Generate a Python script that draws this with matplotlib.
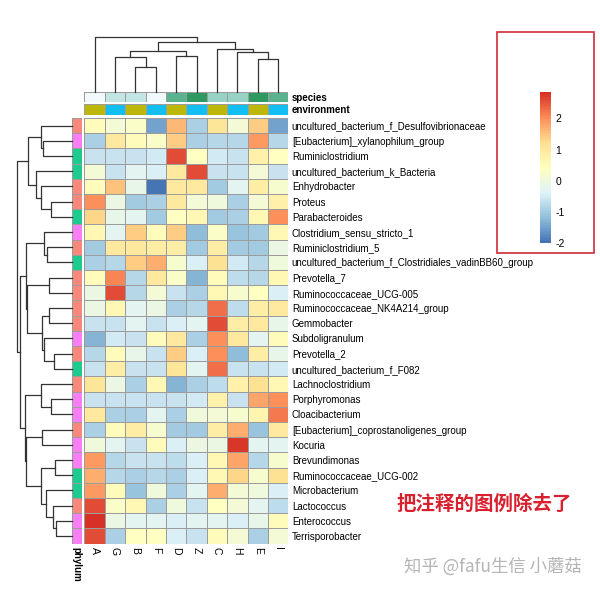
"""Clustered heatmap (pheatmap style) of genus abundance z-scores."""

import matplotlib
matplotlib.use("Agg")
import matplotlib.pyplot as plt
import numpy as np
from matplotlib.colors import LinearSegmentedColormap, ListedColormap
from matplotlib.patches import Rectangle

plt.rcParams["font.family"] = ["Liberation Sans", "Noto Sans CJK SC", "DejaVu Sans"]
plt.rcParams["axes.unicode_minus"] = False

# ---------------------------------------------------------------------------
# Data (order as displayed after clustering)
# ---------------------------------------------------------------------------
samples = ["A", "G", "B", "F", "D", "Z", "C", "H", "E", "I"]

genera = [
    "uncultured_bacterium_f_Desulfovibrionaceae",
    "[Eubacterium]_xylanophilum_group",
    "Ruminiclostridium",
    "uncultured_bacterium_k_Bacteria",
    "Enhydrobacter",
    "Proteus",
    "Parabacteroides",
    "Clostridium_sensu_stricto_1",
    "Ruminiclostridium_5",
    "uncultured_bacterium_f_Clostridiales_vadinBB60_group",
    "Prevotella_7",
    "Ruminococcaceae_UCG-005",
    "Ruminococcaceae_NK4A214_group",
    "Gemmobacter",
    "Subdoligranulum",
    "Prevotella_2",
    "uncultured_bacterium_f_F082",
    "Lachnoclostridium",
    "Porphyromonas",
    "Cloacibacterium",
    "[Eubacterium]_coprostanoligenes_group",
    "Kocuria",
    "Brevundimonas",
    "Ruminococcaceae_UCG-002",
    "Microbacterium",
    "Lactococcus",
    "Enterococcus",
    "Terrisporobacter",
]

#            A     G     B     F     D     Z     C     H     E     I
values = np.array([
    [ 0.5,  0.1,  0.3, -1.5,  1.6, -0.9,  1.1,  0.1,  1.4, -1.5],
    [-0.9,  1.0,  0.5,  0.3,  1.4, -0.9, -0.8, -0.8,  1.9, -0.8],
    [-0.6, -0.6, -0.6, -0.5,  2.6,  0.4, -0.5, -0.6,  0.8,  0.4],
    [ 0.1, -0.6, -0.3, -0.4,  1.0,  2.6, -0.6, -0.6,  0.1, -0.6],
    [ 0.5,  1.5, -0.2, -2.0,  1.0,  1.0, -1.0, -0.3,  0.9,  0.2],
    [ 2.0, -0.1, -1.0, -0.9,  1.0,  0.1,  0.0, -0.9,  0.1,  0.8],
    [ 1.3, -0.2, -0.3, -1.0,  0.4,  0.6, -1.0, -0.9,  0.6,  2.0],
    [ 0.6, -0.3,  1.4,  0.5,  1.4, -1.2,  0.3, -1.1, -1.0,  0.6],
    [-1.0,  1.0,  1.0,  0.9,  0.9, -1.0,  0.9, -1.0, -1.0, -0.1],
    [-0.9, -0.8,  1.4,  1.7,  0.2, -0.4,  1.2, -0.5, -0.8,  0.0],
    [ 0.5,  2.1, -0.8,  1.0,  0.3, -1.3,  0.5, -0.7, -0.8,  0.6],
    [-0.1,  2.6, -0.8,  0.1, -0.6, -0.9,  0.6,  0.2,  0.4, -0.4],
    [-0.1,  0.6, -0.3, -0.1, -0.9, -0.8,  2.3, -0.7,  0.9,  1.0],
    [-0.6, -0.6, -0.3, -0.6, -0.4, -0.3,  2.6,  0.9,  1.0, -0.2],
    [-1.3, -0.5, -0.6,  0.5,  1.0, -0.9,  2.0,  1.0, -0.3,  0.5],
    [-0.8,  0.5, -0.2, -0.6,  1.4, -0.4,  2.0, -1.2,  0.9, -0.2],
    [-0.6,  0.9, -0.6, -0.6,  1.1, -0.3,  2.3, -0.6, -0.6, -0.5],
    [ 1.1, -0.1, -0.9,  0.6, -1.3, -0.9, -0.7,  0.8,  1.2,  0.6],
    [-0.6, -0.6, -0.6, -0.6, -0.6, -0.5,  0.8, -0.6,  1.8,  2.0],
    [ 1.0, -0.9, -0.9, -0.3, -0.9,  0.0,  0.1,  0.2,  0.7,  2.2],
    [-0.9,  0.5,  0.9,  0.2, -1.0, -1.0,  0.9,  1.7, -1.1,  1.0],
    [ 0.0, -0.3, -0.6,  0.5, -0.4, -0.1, -0.1,  2.8, -0.3, -0.3],
    [ 1.9, -0.8, -0.6, -0.6, -0.7, -0.4,  0.6,  1.8, -0.8,  0.2],
    [ 1.7, -0.8, -0.9, -0.8, -0.9, -0.4,  0.6,  1.3,  0.2,  1.2],
    [ 1.9,  0.5, -1.1,  0.0, -0.9, -0.3,  1.7,  0.1,  0.0, -0.4],
    [ 2.6,  0.3,  0.6, -0.9,  0.0, -0.6,  0.4,  0.1, -0.3, -0.7],
    [ 2.85, -0.1, -0.3, -0.3, -0.4, -0.3, -0.3, -0.4, -0.2,  0.5],
    [ 2.6, -0.9,  0.4,  0.4, -0.4, -0.6,  0.5,  0.1, -0.9,  0.1],
])

# annotations
species = [1, 2, 2, 1, 4, 5, 3, 3, 5, 4]
environment = [0, 1, 0, 1, 0, 1, 0, 1, 0, 1]
phylum = [0, 1, 2, 2, 0, 0, 2, 1, 0, 2, 0, 0, 0, 0,
          1, 0, 2, 0, 1, 1, 0, 1, 1, 2, 2, 0, 1, 1]

# dendrograms: (height, left, right), leaves are display indices
row_tree = (54.4,
            (43.4,
             (30.7, 0, (28.4, 1, 2)),
             (35.7, 3, (30.7, 4, (21.0, 5, 6)))),
            (51.4,
             (46.0,
              (27.4, 7, (25.0, 8, 9)),
              (45.0, (22.4, 10, 11),
               (30.0, (22.4, 12, 13), (27.4, 14, (17.4, 15, 16))))),
             (46.3,
              (31.0, 17, (21.0, 18, 19)),
              (45.8, (29.4, 20, 21),
               (31.0, (16.7, 22, 23),
                (25.7, 24, (18.4, 25, (16.0, 26, 27))))))))

col_tree = (54.4, 0,
            (50.0,
             (41.0, (34.4, 1, (24.7, 2, 3)), (36.0, 4, 5)),
             (42.7, 6, (39.4, 7, (32.4, 8, 9)))))

# ---------------------------------------------------------------------------
# Styles
# ---------------------------------------------------------------------------
HEAT_COLORS = ["#4575B4", "#91BFDB", "#E0F3F8", "#FFFFBF",
               "#FEE090", "#FC8D59", "#D73027"]
SPECIES_COLORS = ["#F2F9FA", "#C3E5E3", "#98D2C4", "#5AB28E", "#2E9A62"]
ENV_COLORS = ["#BDB70A", "#12BEF2"]
PHYLUM_COLORS = ["#F8877C", "#F77EF4", "#1CCB8D"]
BORDER = "#9C9C9C"
TREE_COLOR = "#333333"
LABEL_FS = 7

W, H = 600, 592
fig = plt.figure(figsize=(W / 100, H / 100), dpi=100)


def px_axes(x0, y0, x1, y1):
    """Axes placed by pixel box (top-left origin)."""
    ax = fig.add_axes([x0 / W, 1 - y1 / H, (x1 - x0) / W, (y1 - y0) / H])
    ax.set_facecolor("none")
    for s in ax.spines.values():
        s.set_visible(False)
    return ax


def draw_tree(ax, node, orient):
    if isinstance(node, int):
        return node + 0.5, 0.0
    h, left, right = node
    cl, hl = draw_tree(ax, left, orient)
    cr, hr = draw_tree(ax, right, orient)
    xs, ys = [cl, cl, cr, cr], [hl, h, h, hr]
    if orient == "top":
        ax.plot(xs, ys, color=TREE_COLOR, lw=0.9, clip_on=False)
    else:
        ax.plot(ys, xs, color=TREE_COLOR, lw=0.9, clip_on=False)
    return (cl + cr) / 2, h


n_rows, n_cols = values.shape
HX0, HX1 = 84.3, 288.3
HY0 = 118.0
HY1 = HY0 + 15.2 * n_rows

# ---------------------------------------------------------------------------
# Heatmap
# ---------------------------------------------------------------------------
cmap = LinearSegmentedColormap.from_list("rdylbu", HEAT_COLORS, N=100)
vmin, vmax = values.min(), values.max()

ax_h = px_axes(HX0, HY0, HX1, HY1)
mesh = ax_h.pcolormesh(values, cmap=cmap, vmin=vmin, vmax=vmax,
                       edgecolors=BORDER, linewidth=0.6)
ax_h.set_xlim(0, n_cols)
ax_h.set_ylim(n_rows, 0)
ax_h.yaxis.tick_right()
ax_h.set_yticks(np.arange(n_rows) + 0.5)
ax_h.set_yticklabels(genera, fontsize=LABEL_FS)
ax_h.set_xticks(np.arange(n_cols) + 0.5)
ax_h.set_xticklabels(samples, fontsize=LABEL_FS + 0.5, rotation=270)
ax_h.tick_params(length=0, pad=2.5)

# column annotations
ax_sp = px_axes(HX0, 92.3, HX1, 102.3)
ax_sp.pcolormesh([species], cmap=ListedColormap(SPECIES_COLORS),
                 vmin=0.5, vmax=5.5, edgecolors=BORDER, linewidth=0.6)
ax_sp.set_xticks([])
ax_sp.yaxis.tick_right()
ax_sp.set_yticks([0.5])
ax_sp.set_yticklabels(["species"], fontsize=LABEL_FS, fontweight="bold")
ax_sp.tick_params(length=0, pad=2.5)

ax_env = px_axes(HX0, 104.2, HX1, 114.5)
ax_env.pcolormesh([environment], cmap=ListedColormap(ENV_COLORS),
                  vmin=-0.5, vmax=1.5, edgecolors=BORDER, linewidth=0.6)
ax_env.set_xticks([])
ax_env.yaxis.tick_right()
ax_env.set_yticks([0.5])
ax_env.set_yticklabels(["environment"], fontsize=LABEL_FS, fontweight="bold")
ax_env.tick_params(length=0, pad=2.5)

# row annotation
ax_ph = px_axes(72.0, HY0, 81.7, HY1)
ax_ph.pcolormesh(np.array(phylum)[:, None], cmap=ListedColormap(PHYLUM_COLORS),
                 vmin=-0.5, vmax=2.5, edgecolors=BORDER, linewidth=0.6)
ax_ph.set_ylim(n_rows, 0)
ax_ph.set_yticks([])
ax_ph.set_xticks([0.5])
ax_ph.set_xticklabels(["phylum"], fontsize=LABEL_FS, fontweight="bold",
                      rotation=270)
ax_ph.tick_params(length=0, pad=2.5)

# ---------------------------------------------------------------------------
# Dendrograms
# ---------------------------------------------------------------------------
ax_ct = px_axes(HX0, 91.7 - col_tree[0], HX1, 91.7)
draw_tree(ax_ct, col_tree, "top")
ax_ct.set_xlim(0, n_cols)
ax_ct.set_ylim(0, col_tree[0])
ax_ct.set_xticks([])
ax_ct.set_yticks([])

ax_rt = px_axes(71.7 - row_tree[0], HY0, 71.7, HY1)
draw_tree(ax_rt, row_tree, "left")
ax_rt.set_xlim(row_tree[0], 0)
ax_rt.set_ylim(n_rows, 0)
ax_rt.set_xticks([])
ax_rt.set_yticks([])

# ---------------------------------------------------------------------------
# Colour legend
# ---------------------------------------------------------------------------
cax = px_axes(540.0, 92.0, 551.0, 243.0)
cb = fig.colorbar(mesh, cax=cax, ticks=[-2, -1, 0, 1, 2])
cb.outline.set_visible(False)
cax.tick_params(length=0, labelsize=LABEL_FS + 0.5, pad=3)

# overlay: red box and remarks
ov = px_axes(0, 0, W, H)
ov.set_xlim(0, W)
ov.set_ylim(H, 0)
ov.set_xticks([])
ov.set_yticks([])
ov.add_patch(Rectangle((497.3, 32.3), 97, 220.4, fill=False,
                       edgecolor="#CF2A3A", lw=1.2))
ov.text(484, 504, "把注释的图例除去了", ha="center", va="center",
        fontsize=14, color="#D9202E", fontweight="bold",
        family=["Noto Sans CJK SC", "DejaVu Sans"])
ov.text(493, 567, "知乎 @fafu生信 小蘑菇", ha="center", va="center",
        fontsize=12.5, color="#B5B5B5",
        family=["Noto Sans CJK SC", "DejaVu Sans"])

fig.savefig("out.png", dpi=100, facecolor="white")
